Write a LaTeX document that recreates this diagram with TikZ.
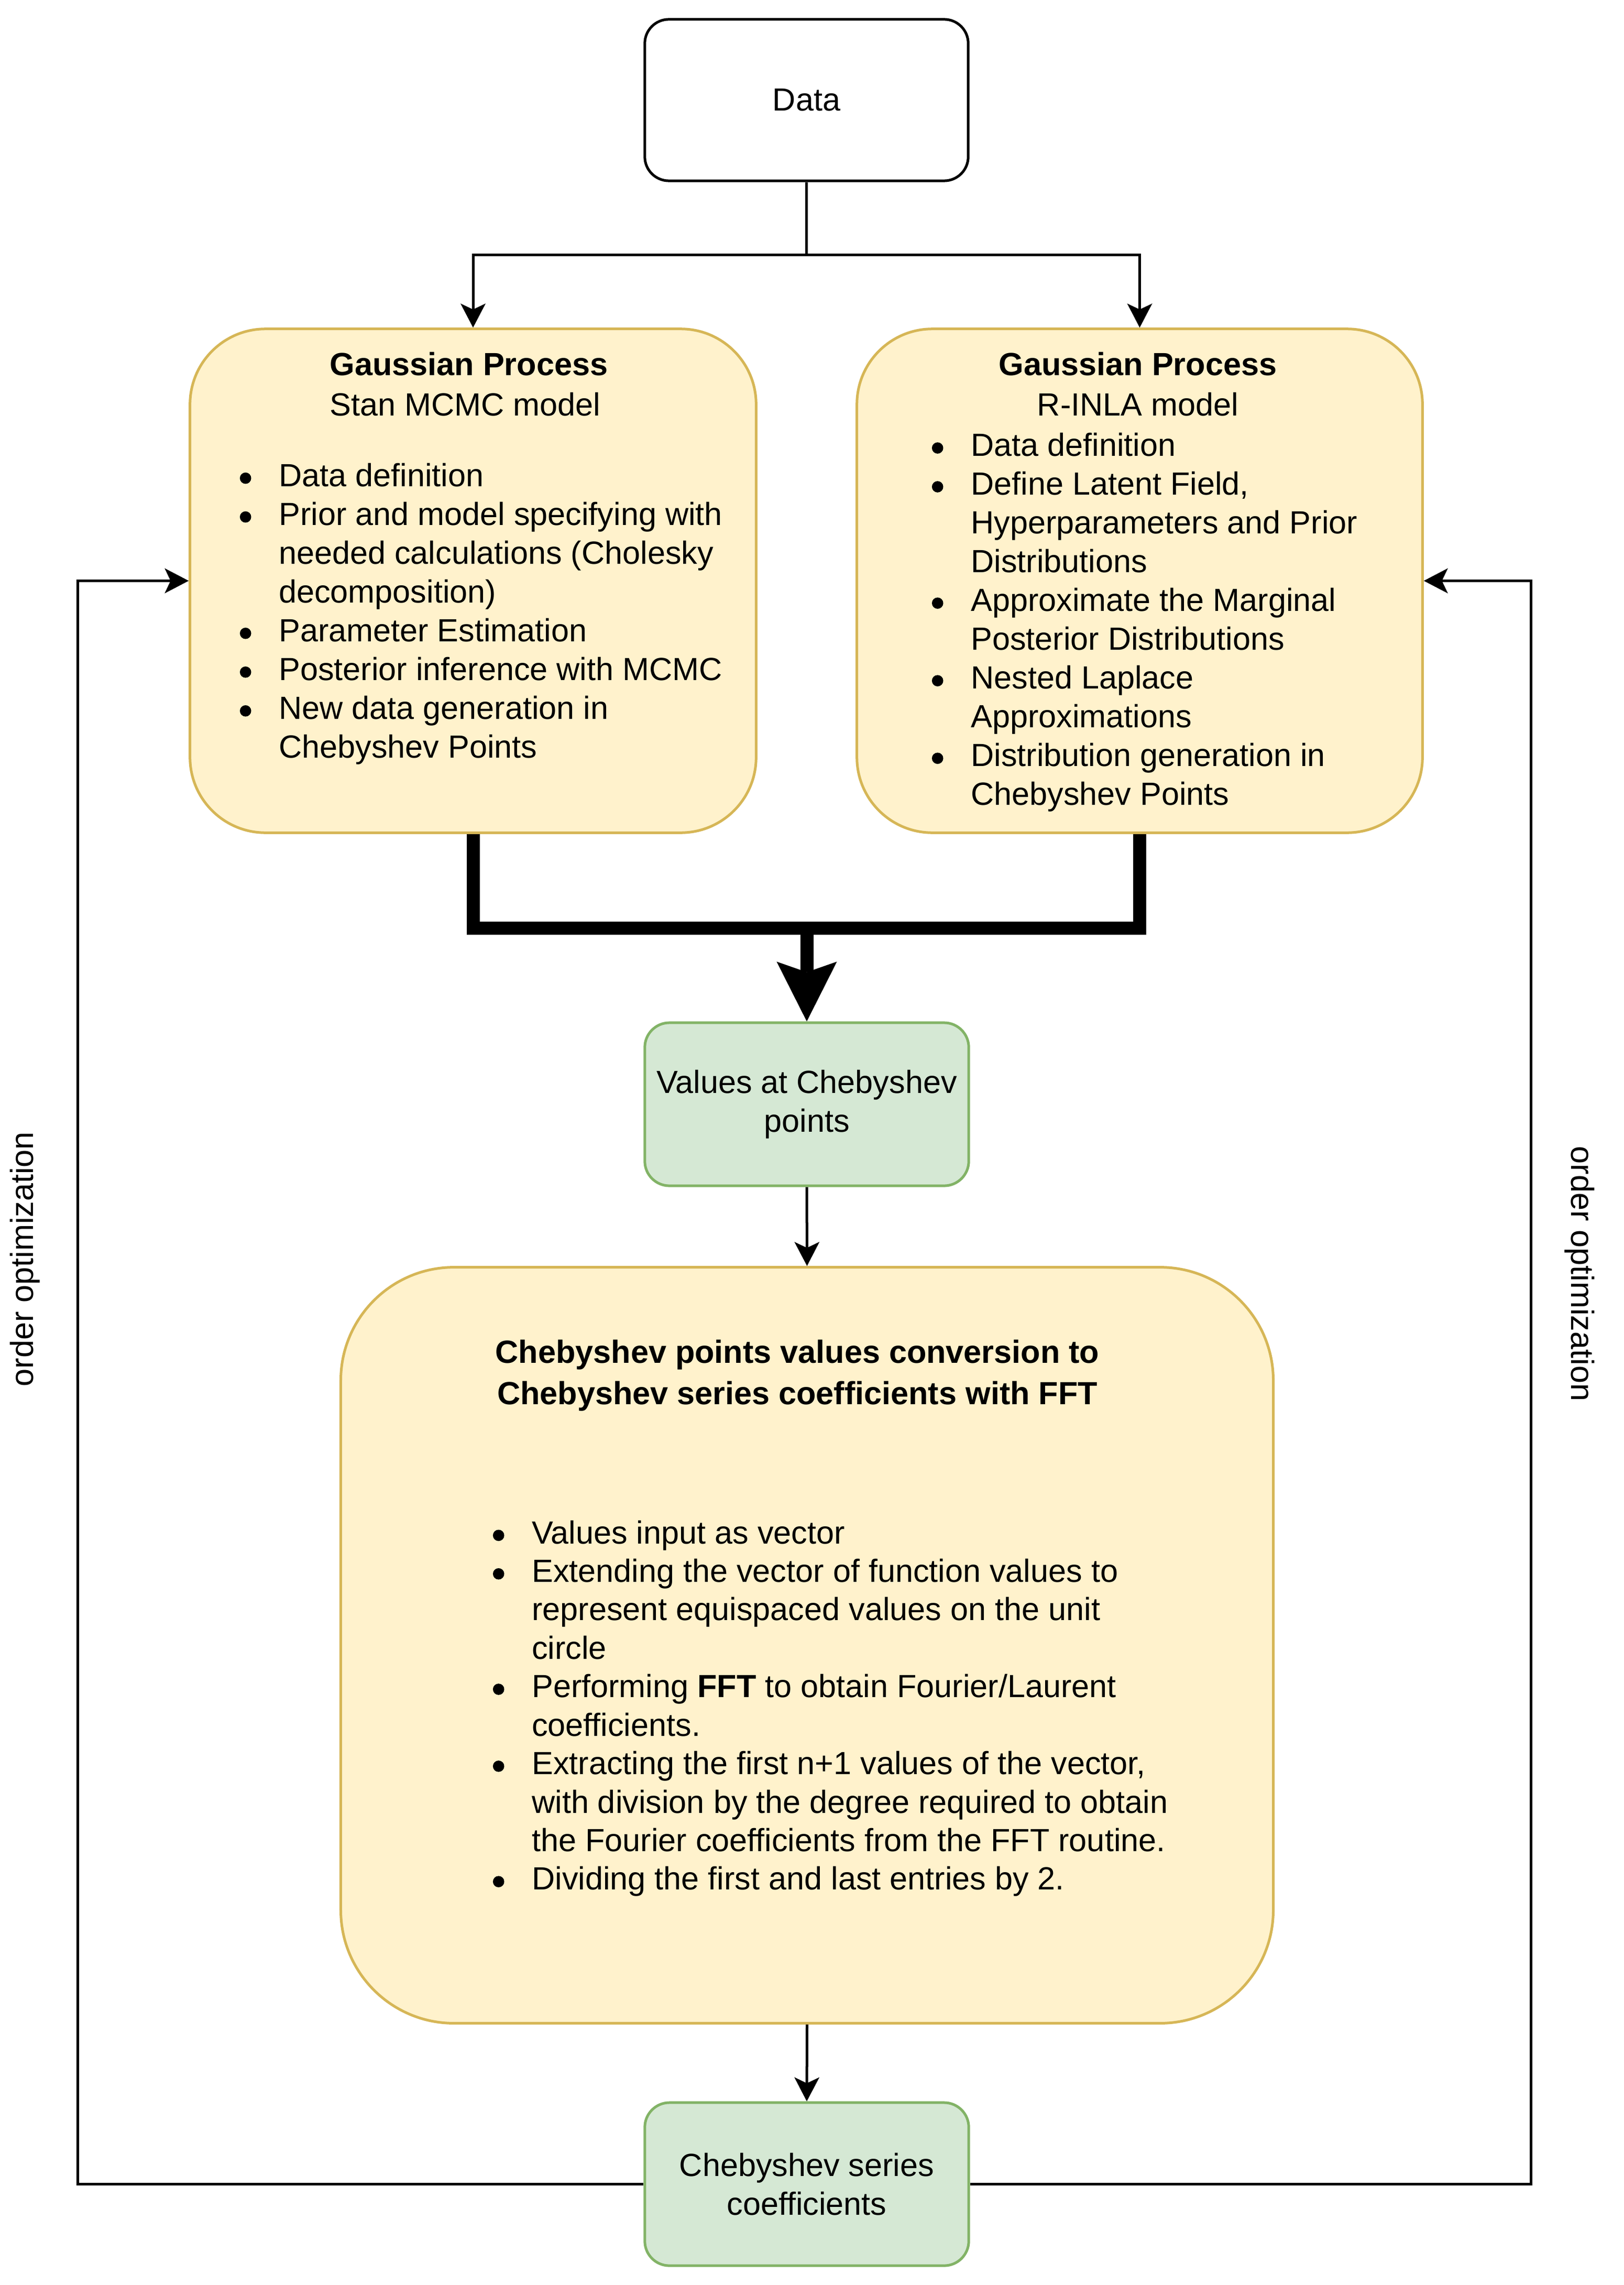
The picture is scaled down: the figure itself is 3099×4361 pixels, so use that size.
\documentclass[tikz,border=0pt]{standalone}
\usepackage{fontspec}
\setmainfont{Liberation Sans}
\usetikzlibrary{arrows.meta}
\definecolor{yfill}{HTML}{FFF2CC}
\definecolor{ydraw}{HTML}{D6B656}
\definecolor{gfill}{HTML}{D5E8D4}
\definecolor{gdraw}{HTML}{82B366}
\newcommand{\bdot}{\makebox[0pt]{\raisebox{0.049cm}{\begin{pgfpicture}\pgfpathcircle{\pgfpointorigin}{0.108cm}\pgfusepath{fill}\end{pgfpicture}}}}
\newcommand{\bl}{\bdot\hspace{0.635cm}}
\newcommand{\ct}{\hspace*{0.635cm}}
\begin{document}
\begin{tikzpicture}[x=0.01cm, y=-0.01cm,
  every node/.style={font=\fontsize{17.4}{21.05}\selectfont, inner sep=0pt},
  ybox/.style={draw=ydraw, fill=yfill, line width=0.05cm},
  gbox/.style={draw=gdraw, fill=gfill, line width=0.05cm, align=center},
  wbox/.style={draw=black, fill=white, line width=0.05cm},
  ln/.style={line width=0.05cm, draw=black},
  arr/.style={-{Stealth[length=0.46cm, width=0.48cm, inset=0.115cm, line width=0pt]}},
  thk/.style={line width=0.25cm, line join=miter},
  bigarr/.style={-{Stealth[length=1.14cm, width=1.15cm, inset=0.2cm, line width=0pt]}},
  txt/.style={align=left, anchor=north west}
]
\useasboundingbox (0,0) rectangle (3099,4361);
\fill[white] (0,0) rectangle (3099,4361);

% boxes
\node[wbox, minimum width=6.17cm, minimum height=3.08cm, rounded corners=0.46cm] (data) at (1539.5,191) {Data};
\node[ybox, minimum width=10.8cm, minimum height=9.61cm, rounded corners=1.44cm] (lgp) at (903,1108.5) {};
\node[ybox, minimum width=10.79cm, minimum height=9.61cm, rounded corners=1.44cm] (rgp) at (2175.5,1108.5) {};
\node[gbox, minimum width=6.18cm, minimum height=3.11cm, rounded corners=0.47cm] (val) at (1540,2107.5) {Values at Chebyshev\\points};
\node[ybox, minimum width=17.79cm, minimum height=14.42cm, rounded corners=2.16cm] (big) at (1540.5,3140) {};
\node[gbox, minimum width=6.18cm, minimum height=3.11cm, rounded corners=0.47cm] (coef) at (1540,4168.5) {Chebyshev series\\coefficients};

% texts in the left box
\node[txt] (lgph) at (629,663.9) {\strut\textbf{Gaussian Process}\\[0.03cm]\strut Stan MCMC model};
\node[txt] (lgpl) at (468,875.8) {\strut\bl Data definition\\
\strut\bl Prior and model specifying with\\
\strut\ct needed calculations (Cholesky\\
\strut\ct decomposition)\\
\strut\bl Parameter Estimation\\
\strut\bl Posterior inference with MCMC\\
\strut\bl New data generation in\\
\strut\ct Chebyshev Points};

% texts in the right box
\node[align=center, anchor=north] (rgph) at (2172,663.9) {\strut\textbf{Gaussian Process}\\[0.03cm]\strut R-INLA model};
\node[txt] (rgpl) at (1789,818.2) {\strut\bl Data definition\\
\strut\bl Define Latent Field,\\
\strut\ct Hyperparameters and Prior\\
\strut\ct Distributions\\
\strut\bl Approximate the Marginal\\
\strut\ct Posterior Distributions\\
\strut\bl Nested Laplace\\
\strut\ct Approximations\\
\strut\bl Distribution generation in\\
\strut\ct Chebyshev Points};

% texts in the big box
\node[align=center, anchor=north] (bigt) at (1522,2549.2) {\strut\textbf{Chebyshev points values conversion to}\\[0.045cm]\strut\textbf{Chebyshev series coefficients with FFT}};
\node[txt, font=\fontsize{17.4}{20.88}\selectfont] (bigl) at (951,2893.9) {\strut\bl Values input as vector\\
\strut\bl Extending the vector of function values to\\
\strut\ct represent equispaced values on the unit\\
\strut\ct circle\\
\strut\bl Performing \textbf{FFT} to obtain Fourier/Laurent\\
\strut\ct coefficients.\\
\strut\bl Extracting the first n+1 values of the vector,\\
\strut\ct with division by the degree required to obtain\\
\strut\ct the Fourier coefficients from the FFT routine.\\
\strut\bl Dividing the first and last entries by 2.};

% side labels
\node[rotate=90] (lopt) at (48,2403) {order optimization};
\node[rotate=-90] (ropt) at (3015,2431) {order optimization};

% connectors
\coordinate (dj) at (1539.5,487);
\draw[ln] (data.south) -- (dj);
\draw[ln, arr] (dj) -| (lgp.north);
\draw[ln, arr] (dj) -| (rgp.north);
\coordinate (tj) at (1540,1771);
\draw[thk] (lgp.south) |- (tj) -| (rgp.south);
\draw[thk, bigarr] (tj) -- (val.north);
\draw[ln, arr] (val.south) -- (big.north);
\draw[ln, arr] (big.south) -- (coef.north);
\coordinate (lc) at (148,4168.5);
\coordinate (rc) at (2922,4168.5);
\draw[ln, arr] (coef.west) -- (lc) |- (lgp.west);
\draw[ln, arr] (coef.east) -- (rc) |- (rgp.east);
\end{tikzpicture}
\end{document}
